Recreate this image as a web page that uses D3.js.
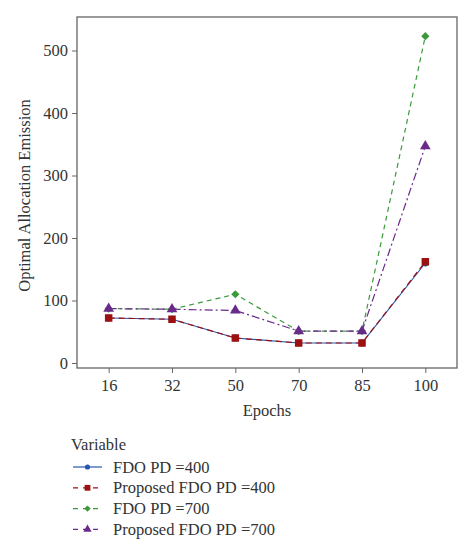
<!DOCTYPE html>
<html>
<head>
<meta charset="utf-8">
<script src="https://cdn.jsdelivr.net/npm/d3@7"></script>
<style>
body { margin: 0; background: #fff; }
text { font-family: "Liberation Serif", "DejaVu Serif", serif; fill: #333; }
</style>
</head>
<body>
<div id="chart"></div>
<script>
const epochs = ["16", "32", "50", "70", "85", "100"];
const fdo400 = [72, 70, 40, 32, 32, 160];
const proposed400 = [72, 70, 40, 32, 32, 162];
const fdo700 = [87, 86, 110, 51, 51, 523];
const proposed700 = [87, 86, 84, 51, 51, 347];
const yTicks = [0, 100, 200, 300, 400, 500];

const seriesList = [
    { name: "FDO PD =400", values: fdo400, color: "#2a56b0", dash: null, symbol: d3.symbolCircle, size: 36, rot: 0 },
    { name: "Proposed FDO PD =400", values: proposed400, color: "#9c1010", dash: "6,4", symbol: d3.symbolSquare, size: 56, rot: 0 },
    { name: "FDO PD =700", values: fdo700, color: "#3a9a3a", dash: "5,4", symbol: d3.symbolSquare, size: 34, rot: 45 },
    { name: "Proposed FDO PD =700", values: proposed700, color: "#6a2a8a", dash: "8,3,2,3", symbol: d3.symbolTriangle, size: 50, rot: 0 }
];

function buildChart() {
    const width = 474, height = 556;
    const margin = { left: 77, right: 17, top: 17, bottom: 188 };

    const svg = d3.select("#chart")
        .append("svg")
        .attr("width", width)
        .attr("height", height);

    const x = d3.scalePoint()
        .domain(epochs)
        .range([margin.left, width - margin.right])
        .padding(0.5);

    const y = d3.scaleLinear()
        .domain([-8, 553.6])
        .range([height - margin.bottom, margin.top]);

    // y axis
    const yAxis = svg.append("g")
        .attr("transform", `translate(${margin.left},0)`)
        .call(d3.axisLeft(y).tickValues(yTicks).tickSize(5).tickPadding(4));
    yAxis.select(".domain").remove();
    yAxis.selectAll("line").attr("stroke", "#666");
    yAxis.selectAll("text").style("font-size", "16.5px").attr("fill", "#333");

    // x axis
    const xAxis = svg.append("g")
        .attr("transform", `translate(0,${height - margin.bottom})`)
        .call(d3.axisBottom(x).tickSize(5).tickPadding(6));
    xAxis.select(".domain").remove();
    xAxis.selectAll("line").attr("stroke", "#666");
    xAxis.selectAll("text").style("font-size", "16.5px").attr("fill", "#333");

    // frame
    svg.append("rect")
        .attr("x", margin.left)
        .attr("y", margin.top)
        .attr("width", width - margin.left - margin.right)
        .attr("height", height - margin.top - margin.bottom)
        .attr("fill", "none")
        .attr("stroke", "#666")
        .attr("stroke-width", 1.3);

    // axis titles
    svg.append("text")
        .attr("x", (margin.left + width - margin.right) / 2)
        .attr("y", 416)
        .attr("text-anchor", "middle")
        .style("font-size", "16.5px")
        .text("Epochs");

    svg.append("text")
        .attr("transform", `translate(30,${(margin.top + height - margin.bottom) / 2 + 3}) rotate(-90)`)
        .attr("text-anchor", "middle")
        .style("font-size", "16.5px")
        .text("Optimal Allocation Emission");

    const line = d3.line()
        .x((d, i) => x(epochs[i]))
        .y(d => y(d));

    seriesList.forEach(s => {
        svg.append("path")
            .datum(s.values)
            .attr("fill", "none")
            .attr("stroke", s.color)
            .attr("stroke-width", 1.2)
            .attr("stroke-dasharray", s.dash)
            .attr("d", line);
    });

    seriesList.forEach(s => {
        svg.selectAll(null)
            .data(s.values)
            .enter().append("path")
            .attr("transform", (d, i) => `translate(${x(epochs[i])},${y(d)}) rotate(${s.rot})`)
            .attr("d", d3.symbol().type(s.symbol).size(s.size))
            .attr("fill", s.color);
    });

    // legend
    const legend = svg.append("g");
    legend.append("text")
        .attr("x", 71)
        .attr("y", 450)
        .style("font-size", "16.5px")
        .text("Variable");

    seriesList.forEach((s, i) => {
        const cy = 467 + i * 20.8;
        legend.append("line")
            .attr("x1", 73).attr("x2", 102)
            .attr("y1", cy).attr("y2", cy)
            .attr("stroke", s.color)
            .attr("stroke-width", 1.2)
            .attr("stroke-dasharray", s.dash ? "5,5" : null);
        legend.append("path")
            .attr("transform", `translate(87.5,${cy}) rotate(${s.rot})`)
            .attr("d", d3.symbol().type(s.symbol).size(s.size * 0.6))
            .attr("fill", s.color);
        legend.append("text")
            .attr("x", 113)
            .attr("y", cy + 5.5)
            .style("font-size", "16.5px")
            .text(s.name);
    });
}

window.addEventListener("load", () => {
    buildChart();
});
</script>
</body>
</html>
